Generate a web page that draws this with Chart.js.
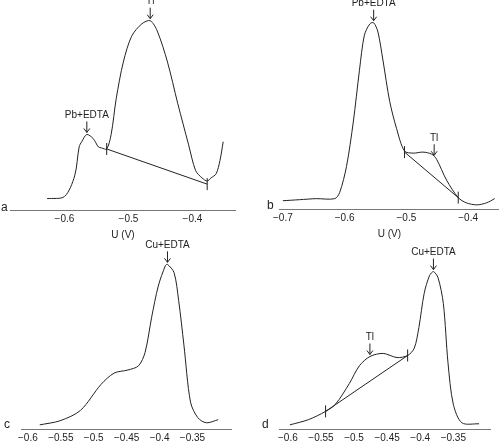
<!DOCTYPE html>
<html><head><meta charset="utf-8">
<script src="https://cdn.jsdelivr.net/npm/chart.js@4"></script>
<style>
body{margin:0;background:#fff;font-family:"Liberation Sans",Arial,sans-serif;}
.p{position:absolute;}
.l{position:absolute;font-size:12px;color:#222;}
</style></head><body>
<div class="p" style="left:10px;top:0;width:226px;height:241px"><canvas id="ca"></canvas></div>
<div class="p" style="left:270px;top:0;width:229px;height:240px"><canvas id="cb"></canvas></div>
<div class="p" style="left:15px;top:224px;width:217px;height:236px"><canvas id="cc"></canvas></div>
<div class="p" style="left:275px;top:224px;width:216px;height:236px"><canvas id="cd"></canvas></div>
<div class="l" style="left:1px;top:200px">a</div>
<div class="l" style="left:267px;top:198px">b</div>
<div class="l" style="left:4px;top:417px">c</div>
<div class="l" style="left:262px;top:417px">d</div>
<script>
const aU=[-0.627,-0.6,-0.584,-0.577,-0.573,-0.565,-0.555,-0.547,-0.542,-0.534,-0.527,-0.519,-0.508,-0.495,-0.479,-0.466,-0.455,-0.439,-0.423,-0.406,-0.395,-0.385,-0.377,-0.371,-0.363,-0.357,-0.352];
const aI=[11,13,33,61,66,73,69,61,60,59,73,108,143,168,180,183,173,143,103,63,38,31,28,31,35,48,66];
const bU=[-0.7,-0.673,-0.646,-0.616,-0.608,-0.597,-0.586,-0.576,-0.568,-0.559,-0.553,-0.546,-0.538,-0.527,-0.516,-0.503,-0.489,-0.473,-0.459,-0.451,-0.435,-0.416,-0.403,-0.386,-0.370,-0.357];
const bI=[8,9,10,10,16,41,84,134,168,179,180,171,144,104,78,56,54,55,53,48,28,11,6,4,6,10];
const cU=[-0.582,-0.551,-0.520,-0.489,-0.469,-0.448,-0.432,-0.422,-0.412,-0.402,-0.391,-0.388,-0.378,-0.371,-0.363,-0.353,-0.342,-0.329,-0.311];
const cI=[4,8,18,43,54,57,61,74,108,138,158,159,151,124,81,26,11,6,9];
const dU=[-0.597,-0.569,-0.543,-0.528,-0.507,-0.492,-0.476,-0.456,-0.435,-0.419,-0.409,-0.402,-0.394,-0.386,-0.380,-0.373,-0.365,-0.358,-0.350,-0.337,-0.311];
const dI=[4,9,17,24,44,61,70,73,69,71,78,98,131,148,152,146,121,64,24,6,5];
const aTicks=[-0.6,-0.5,-0.4], bTicks=[-0.7,-0.6,-0.5,-0.4];
const cTicks=[-0.6,-0.55,-0.5,-0.45,-0.4,-0.35], dTicks=[-0.6,-0.55,-0.5,-0.45,-0.4,-0.35];

const ann={
 id:'ann',
 afterDatasetsDraw(ch,args,o){
  const x=ch.scales.x,y=ch.scales.y,c=ch.ctx,A=ch.options.plugins.ann;
  c.save();c.strokeStyle='#222';c.fillStyle='#222';c.lineWidth=1;
  (A.base||[]).forEach(b=>{
    c.beginPath();c.moveTo(x.getPixelForValue(b[0]),y.getPixelForValue(b[1]));
    c.lineTo(x.getPixelForValue(b[2]),y.getPixelForValue(b[3]));c.stroke();
    [[b[0],b[1]],[b[2],b[3]]].forEach(p=>{const px=x.getPixelForValue(p[0]),py=y.getPixelForValue(p[1]);
      c.beginPath();c.moveTo(px,py-6);c.lineTo(px,py+6);c.stroke();});
  });
  (A.arrows||[]).forEach(a=>{
    const px=x.getPixelForValue(a[0]),py=y.getPixelForValue(a[1]);
    c.beginPath();c.moveTo(px,py-1);c.lineTo(px,py-12);c.stroke();
    c.beginPath();c.moveTo(px-3,py-5);c.lineTo(px,py-1);c.lineTo(px+3,py-5);c.stroke();
    c.font='10px "Liberation Sans", Arial, sans-serif';c.textAlign='center';c.textBaseline='bottom';
    c.fillText(a[2],px,py-13);
  });
  c.restore();
 }};

function mk(id,U,I,mn,mx,ticks,ymax,A){
 new Chart(document.getElementById(id),{type:'line',
  data:{datasets:[{data:U.map((u,i)=>({x:u,y:I[i]})),borderColor:'#222',borderWidth:1,pointRadius:0,tension:0.3,fill:false}]},
  options:{responsive:true,maintainAspectRatio:false,animation:false,
   layout:{padding:{top:0,right:0,left:0,bottom:0}},
   plugins:{legend:{display:false},tooltip:{enabled:false},ann:A},
   scales:{
    x:{type:'linear',min:mn,max:mx,afterBuildTicks:ax=>{ax.ticks=ticks.map(v=>({value:v}));},
      grid:{display:false,drawTicks:false},border:{display:true,color:'#777',width:1},
      ticks:{color:'#222',padding:3,font:{size:10,family:'"Liberation Sans", Arial, sans-serif'},callback:v=>String(v).replace('-','\u2212')},
      title:{display:true,text:'U (V)',color:'#222',padding:{top:1,bottom:0},font:{size:10,family:'"Liberation Sans", Arial, sans-serif'}}},
    y:{display:false,min:0,max:ymax}}}
  ,plugins:[ann]});
}
mk('ca',aU,aI,-0.685,-0.332,aTicks,203,{arrows:[[-0.466,184,'Tl'],[-0.565,74,'Pb+EDTA']],base:[[-0.534,59,-0.377,25]]});
mk('cb',bU,bI,-0.705,-0.35,bTicks,202,{arrows:[[-0.553,181,'Pb+EDTA'],[-0.455,51,'Tl']],base:[[-0.503,55,-0.416,11]]});
mk('cc',cU,cI,-0.610,-0.290,cTicks,198,{arrows:[[-0.388,160,'Cu+EDTA']]});
mk('cd',dU,dI,-0.613,-0.293,dTicks,198,{arrows:[[-0.380,153,'Cu+EDTA'],[-0.476,71,'Tl']],base:[[-0.543,17,-0.419,71]]});
</script></body></html>
